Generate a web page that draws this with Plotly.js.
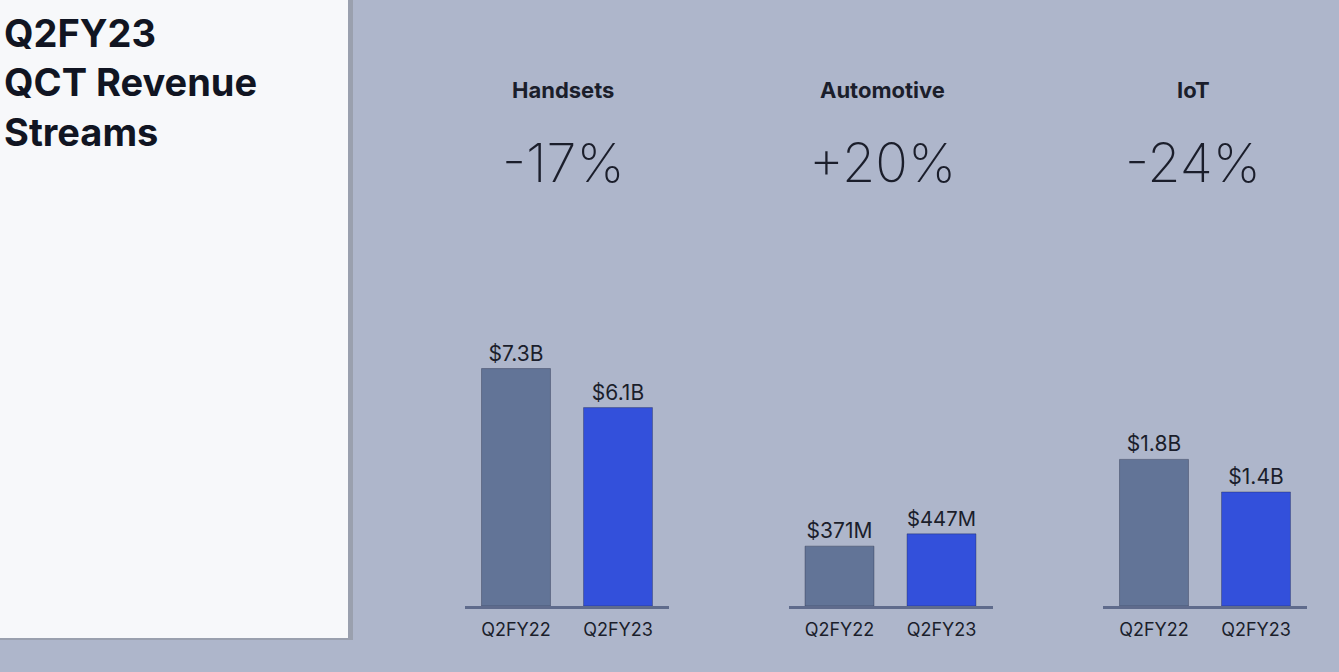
<!DOCTYPE html>
<html>
<head>
<meta charset="utf-8">
<script src="https://cdn.plot.ly/plotly-3.0.1.min.js"></script>
<style>
  body { margin: 0; background: #aeb6cb; }
  #plot { width: 1339px; height: 672px; }
</style>
</head>
<body>
<div id="plot"></div>
<script>
const periods = ["Q2FY22", "Q2FY23"];
const segments = ["Handsets", "Automotive", "IoT"];
const changes = ["-17%", "+20%", "-24%"];

// revenue in $B
const handsetRev = [7.3, 6.1];
const autoRev = [0.371, 0.447];
const iotRev = [1.8, 1.4];

const handsetLabels = ["$7.3B", "$6.1B"];
const autoLabels = ["$371M", "$447M"];
const iotLabels = ["$1.8B", "$1.4B"];

const barColors = ["#627497", "#3350db"];
const textColor = "#1b1e2b";
const font = "Inter, 'Open Sans', sans-serif";

const W = 1339, H = 672;
const base = (H - 606) / H;

function barTrace(values, labels, n) {
  return {
    type: "bar",
    x: periods,
    y: values,
    text: labels,
    textposition: "outside",
    cliponaxis: false,
    textfont: { family: font, size: 21, color: textColor },
    marker: { color: barColors, line: { color: "rgba(30,35,60,0.35)", width: 1 } },
    xaxis: n == 1 ? "x" : "x" + n,
    yaxis: n == 1 ? "y" : "y" + n,
    hoverinfo: "skip"
  };
}

var data = [
  barTrace(handsetRev, handsetLabels, 1),
  barTrace(autoRev, autoLabels, 2),
  barTrace(iotRev, iotLabels, 3)
];

function xax(x0, x1) {
  return {
    domain: [x0 / W, x1 / W],
    range: [-0.5, 1.5],
    showline: true, linecolor: "#5f6b8c", linewidth: 3,
    showgrid: false, zeroline: false, ticks: "",
    ticklabelstandoff: 5,
    tickfont: { family: font, size: 18, color: textColor },
    fixedrange: true
  };
}
function yax(n, top) {
  return {
    domain: [base, 1],
    range: [0, top],
    anchor: n == 1 ? "x" : "x" + n,
    visible: false,
    fixedrange: true
  };
}

var annotations = [{
  xref: "paper", yref: "paper", x: 2 / W, y: 1 - 8 / H,
  xanchor: "left", yanchor: "top", align: "left",
  text: "<b>Q2FY23<br>QCT Revenue<br>Streams</b>",
  showarrow: false,
  font: { family: font, size: 38, color: "#111522" }
}];

const headX = [563, 882, 1193];
for (let i = 0; i < segments.length; i++) {
  annotations.push({
    xref: "paper", yref: "paper", x: headX[i] / W, y: 1 - 90 / H,
    xanchor: "center", yanchor: "middle", showarrow: false,
    text: "<b>" + segments[i] + "</b>",
    font: { family: font, size: 22, color: textColor }
  });
  annotations.push({
    xref: "paper", yref: "paper", x: headX[i] / W, y: 1 - 162 / H,
    xanchor: "center", yanchor: "middle", showarrow: false,
    text: changes[i],
    font: { family: font, size: 54, color: textColor, weight: 200 }
  });
}

var layout = {
  width: W, height: H,
  margin: { l: 0, r: 0, t: 0, b: 0 },
  paper_bgcolor: "#aeb6cb",
  plot_bgcolor: "rgba(0,0,0,0)",
  showlegend: false,
  bargap: 0.324,
  xaxis: xax(465, 669),
  xaxis2: xax(788.5, 992.5),
  xaxis3: xax(1103, 1307),
  yaxis: yax(1, 18.63),
  yaxis2: yax(2, 3.755),
  yaxis3: yax(3, 7.44),
  shapes: [
    { type: "rect", xref: "paper", yref: "paper", layer: "below",
      x0: 0, x1: 353 / W, y0: 1 - 640 / H, y1: 1.01,
      fillcolor: "#9aa0ae", line: { width: 0 } },
    { type: "rect", xref: "paper", yref: "paper", layer: "below",
      x0: 0, x1: 348 / W, y0: 1 - 638 / H, y1: 1.01,
      fillcolor: "#f7f8fa", line: { width: 0 } }
  ],
  annotations: annotations
};

Plotly.newPlot("plot", data, layout, { displayModeBar: false, staticPlot: true });
</script>
</body>
</html>
